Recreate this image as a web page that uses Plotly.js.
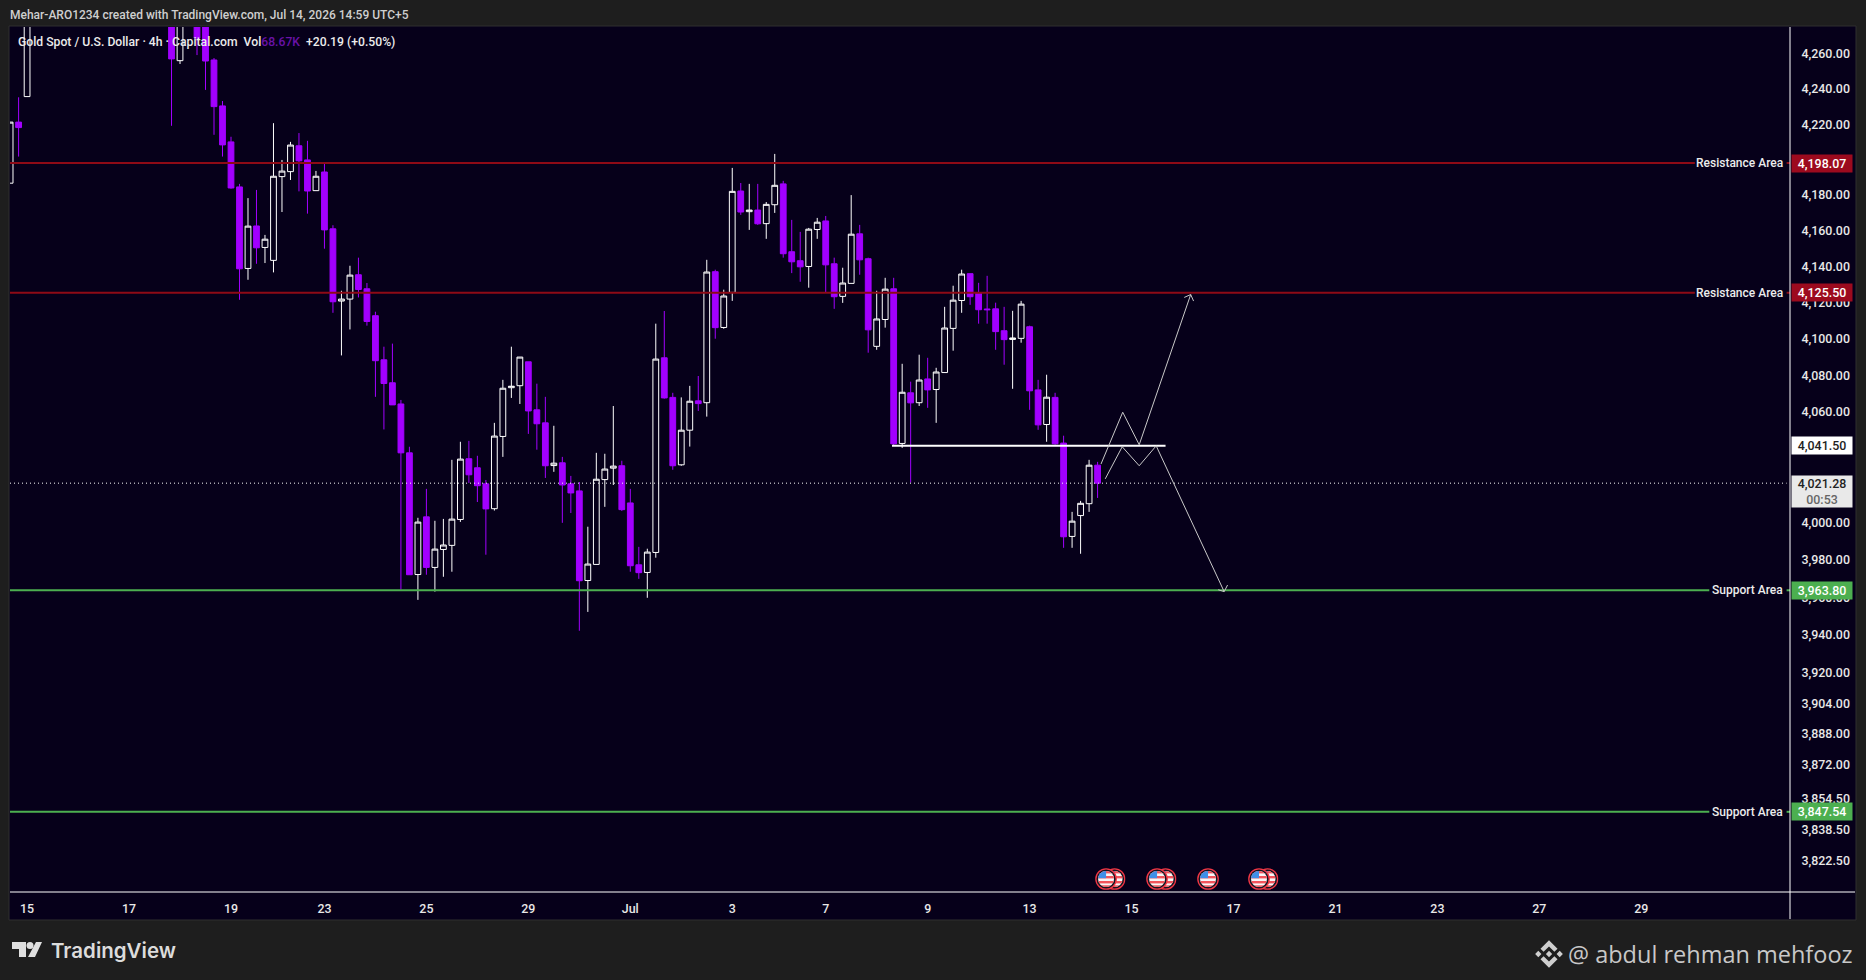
<!DOCTYPE html>
<html><head><meta charset="utf-8">
<script src="https://cdn.plot.ly/plotly-3.0.1.min.js"></script>
<style>html,body{margin:0;padding:0;background:#1e1e1e;overflow:hidden}#c{width:1866px;height:980px}</style>
</head><body><div id="c"></div>
<script>
const candleIdx = [-1,0,1,18,19,21,22,23,24,25,26,27,28,29,30,31,32,33,34,35,36,37,38,39,40,41,42,43,44,45,46,47,48,49,50,51,52,53,54,55,56,57,58,59,60,61,62,63,64,65,66,67,68,69,70,71,72,73,74,75,76,77,78,79,80,81,82,83,84,85,86,87,88,89,90,91,92,93,94,95,96,97,98,99,100,101,102,103,104,105,106,107,108,109,110,111,112,113,114,115,116,117,118,119,120,121,122,123,124,125,126,127];
const opens = [4186.7,4221.2,4235.7,4290,4256.2,4285,4283,4256.6,4230.4,4210,4184.6,4139,4162.7,4150.7,4143.5,4190.4,4193.2,4207.8,4199.8,4182.5,4193,4161.1,4120.9,4122,4135.5,4127.7,4112.8,4088.5,4075.9,4064.3,4037.7,3972.2,4003.1,3976,3985.6,3987.8,4001.7,4034.5,4029.6,4020.9,4007.5,4046.6,4073.2,4074.3,4087.4,4061.1,4054,4030.8,4032.3,4020.9,4017.1,3969,3977.6,4023.2,4029.4,4030.7,4010.6,3977.4,3973.3,3984,4089.6,4067.9,4031.2,4050,4066,4065,4137.2,4106.3,4125.7,4182.3,4170.7,4171.6,4164,4174.6,4186.3,4148.3,4143.3,4140.1,4160.7,4165.5,4141.6,4123.5,4130.7,4158.3,4144.4,4095.9,4110.7,4127.7,4042.8,4070.4,4065,4078,4072.2,4081.5,4105.8,4121.2,4136.1,4125.3,4116.5,4116.6,4104.5,4099.7,4100.3,4106.7,4072,4053.1,4067.9,4043,3992.6,4003.8,4010.2,4031];
const highs = [4221.2,4235.3,4300,4295,4290,4292,4292,4257.7,4233.2,4212.9,4186.3,4178.3,4182.9,4157.7,4220.6,4199.8,4210,4215,4210.6,4193.6,4198,4163.1,4126.6,4140.5,4145,4130.9,4115,4095.7,4097.4,4066.5,4041,4002.6,4018.2,4001,4002,4033.9,4043.7,4044.2,4036.1,4023,4054,4077.5,4095.7,4090,4087.4,4075.4,4068.2,4052.4,4035.5,4025.2,4021.9,3997.8,4037.7,4037.2,4063.2,4033.4,4018.2,3987,3986,4108.4,4115.4,4070.4,4067.9,4074.2,4079.6,4143.8,4138.3,4127.2,4195.3,4186.8,4186.3,4186.3,4176.1,4203.2,4188,4166.1,4159.4,4161.6,4167.2,4168.3,4145,4139.4,4180,4163.3,4145,4126.6,4133.8,4133.8,4086.3,4076.5,4091.3,4089.6,4084.1,4117.7,4129.4,4138.3,4136.1,4131,4134.9,4120,4117.7,4115.5,4121,4107.3,4077.5,4080.3,4070.4,4047,4005.8,4011.7,4033.9,4032.8];
const lows = [4186.7,4201.7,4235.7,4219.1,4254.3,4259.4,4239.5,4214,4201.7,4183.6,4121.6,4132.7,4141.6,4142,4136.8,4170.5,4188.5,4182.1,4169.6,4182.5,4150,4114.4,4090.9,4105.2,4122.9,4107.3,4068.2,4050.4,4063.8,3964.1,3972.1,3958.7,3972.1,3963.1,3971,3973.7,4000.4,4021.4,4011.1,3982.8,4006.5,4035.5,4067.6,4064.3,4048,4039.4,4024.1,4027.4,3999.9,4005.2,3942.3,3952.3,3977.6,4008.5,4020.3,4006.3,3973.7,3969.9,3959.8,3981.2,4067.2,4028.5,4030.7,4041.1,4060.5,4057.4,4100.1,4105.6,4121,4168.9,4160.5,4163.3,4155.5,4170,4145,4136.4,4131.6,4128.3,4155.5,4125.5,4116.6,4119.9,4130.7,4135.5,4092.4,4094,4106.2,4041.5,4040.4,4021.6,4063.2,4062.2,4054,4081.5,4093.5,4114.4,4118.8,4108.4,4108.4,4094,4085.8,4072.6,4097.9,4061.1,4050.2,4043.7,4042.1,3986.5,3986.5,3983.3,4005.8,4013.3];
const closes = [4221.2,4218.1,4296,4257.2,4282,4269.1,4256,4230,4208.3,4184,4138.8,4162.6,4150.5,4155.3,4190.6,4193.5,4208.2,4199.3,4182.3,4190.6,4160.5,4120.5,4122,4135.3,4127.3,4109.6,4088,4075.5,4063.8,4037.7,3972.1,4000.3,3976,3985.8,3988,4001.9,4034.3,4025.8,4019.9,4007.4,4046.8,4072.9,4074,4090,4060.5,4053.5,4030.7,4032.1,4020.3,4016,3968.9,3977.8,4023.4,4028.9,4030.5,4007,3976.9,3973.2,3984.2,4088.9,4067.6,4030.7,4050,4065.8,4064.5,4137,4106.2,4123.7,4182.1,4170.5,4171.6,4163.9,4174.8,4185.5,4147.2,4142.7,4139.9,4160.9,4164.8,4141,4123.3,4130.9,4158.1,4143.8,4105,4111,4127.5,4042.6,4070.7,4064.9,4077.4,4072,4081.8,4106,4121.4,4135.9,4123.3,4116.1,4116.1,4104,4099.6,4100.5,4119.2,4071.5,4052.9,4068,4042.6,3992.4,4000.8,4010.4,4031,4021.28];

const yTickVals = [4260,4240,4220,4200,4180,4160,4140,4120,4100,4080,4060,4000,3980,3960,3940,3920,3904,3888,3872,3854.5,3838.5,3822.5];
const yTickText = ["4,260.00","4,240.00","4,220.00","4,200.00","4,180.00","4,160.00","4,140.00","4,120.00","4,100.00","4,080.00","4,060.00","4,000.00","3,980.00","3,960.00","3,940.00","3,920.00","3,904.00","3,888.00","3,872.00","3,854.50","3,838.50","3,822.50"];
const xTickVals = [1,13,25,36,48,60,72,84,95,107,119,131,143,155,167,179,191];
const xTickText = ["15","17","19","23","25","29","Jul","3","7","9","13","15","17","21","23","27","29"];

const resistanceLevels = [4198.07,4125.50];
const supportLevels = [3963.80,3847.54];
const lastPrice = 4021.28;
const markedLevel = 4041.50;

const upPathX = [127.4,129.96,131.9,137.96];
const upPathY = [4031.6,4059.8,4042.1,4124.5];
const upHeadX = [137.2,137.96,138.3];
const upHeadY = [4122.9,4124.5,4120.9];
const downPathX = [127.9,129.9,131.9,133.9,141.9];
const downPathY = [4023.6,4041,4030.7,4041.5,3963.1];
const downHeadX = [141.2,141.9,142.3];
const downHeadY = [3964.1,3963.1,3966.6];
const markedX = [102.8,135];
const eventIdx = [129,128,135,134,140,147,146];

const BG='#06001a', PURPLE='#a200ff', WHITE='#ffffff', RED='#8e0a16', REDB='#9c0a1e', GREEN='#4caf50', FRAME='#1e1e1e';
const LEFT=10, TOP=27, W=1780, H=865;
const XMIN=-1.012, XMAX=208.5, LEVEL_END_R=197.3, LEVEL_END_S=199, DASH0=208.1;
const fp=(px)=>(px-LEFT)/W, fy=(py)=>(TOP+H-py)/H;
const UI='Roboto, sans-serif';
const TICKFONT={family:UI,size:12.4,weight:500,color:'#e8e8e8'};

function seg(x,y,color,width,dash){return {type:'scatter',mode:'lines',x,y,line:{color,width,dash:dash||'solid'},hoverinfo:'skip',showlegend:false};}
const traces=[{type:'candlestick',x:candleIdx,open:opens,high:highs,low:lows,close:closes,
  increasing:{line:{color:WHITE,width:1},fillcolor:BG},decreasing:{line:{color:PURPLE,width:1},fillcolor:PURPLE},
  whiskerwidth:0,hoverinfo:'skip',showlegend:false}];
resistanceLevels.forEach(v=>{traces.push(seg([XMIN,LEVEL_END_R],[v,v],RED,2));traces.push(seg([DASH0,XMAX],[v,v],RED,2));});
supportLevels.forEach(v=>{traces.push(seg([XMIN,LEVEL_END_S],[v,v],GREEN,2));traces.push(seg([DASH0,XMAX],[v,v],GREEN,2));});
traces.push(seg([XMIN,DASH0],[lastPrice,lastPrice],'#ffffff',1,'1px,3px'));
traces.push(seg(markedX,[markedLevel,markedLevel],WHITE,2));
traces.push(seg(upPathX,upPathY,'#c9c9c9',1));
traces.push(seg(upHeadX,upHeadY,'#c9c9c9',1));
traces.push(seg(downPathX,downPathY,'#c9c9c9',1));
traces.push(seg(downHeadX,downHeadY,'#c9c9c9',1));

const flagSvg=`<svg xmlns="http://www.w3.org/2000/svg" width="88" height="88" viewBox="0 0 22 22"><defs><clipPath id="a"><circle cx="11" cy="11" r="8"/></clipPath></defs><circle cx="11" cy="11" r="10.2" fill="#131722" stroke="#f23645" stroke-width="1.3"/><g clip-path="url(#a)"><rect width="22" height="22" fill="#f7f7f7"/><rect y="3" width="22" height="2.4" fill="#f2545b"/><rect y="8" width="22" height="2.4" fill="#f2545b"/><rect y="13" width="22" height="2.4" fill="#f2545b"/><rect y="17.3" width="22" height="3" fill="#f2545b"/><rect x="3" y="3" width="8" height="7.2" fill="#3f8fe8"/></g></svg>`;
const logoSvg=`<svg xmlns="http://www.w3.org/2000/svg" width="120" height="60" viewBox="0 0 30 15"><g fill="#e0e0e0"><path d="M0 0h14v15h-7v-8h-7z"/><circle cx="18" cy="3.5" r="3.5"/><path d="M24 0h6l-7 15h-7z"/></g></svg>`;
const binanceSvg=`<svg xmlns="http://www.w3.org/2000/svg" width="112" height="112" viewBox="0 0 126 126"><path fill="#cfcfcf" d="M38.73 53.2 63 28.93l24.28 24.28 14.12-14.12L63 .69 24.61 39.08zM.69 63l14.12-14.12L28.93 63 14.81 77.12zm38.04 9.8L63 97.07l24.28-24.28 14.12 14.12L63 125.31 24.61 86.92zM97.07 63l14.12-14.12L125.31 63l-14.12 14.12zM77.32 63 63 48.68 52.55 59.13l-1.2 1.2-2.47 2.47L63 77.33 77.32 63z"/></svg>`;
const uri=s=>'data:image/svg+xml,'+encodeURIComponent(s);

const images=eventIdx.map(k=>({source:uri(flagSvg),xref:'x',yref:'paper',x:k,y:fy(879),sizex:22/8.496,sizey:22/H,xanchor:'center',yanchor:'middle',sizing:'contain',layer:'above'}));
images.push({source:uri(logoSvg),xref:'paper',yref:'paper',x:fp(12),y:fy(942),sizex:30/W,sizey:15/H,xanchor:'left',yanchor:'top',sizing:'contain',layer:'above'});
images.push({source:uri(binanceSvg),xref:'paper',yref:'paper',x:fp(1549),y:fy(954),sizex:28/W,sizey:28/H,xanchor:'center',yanchor:'middle',sizing:'contain',layer:'above'});

function label(text,x,y,anchor,font,extra){return Object.assign({text,xref:'paper',yref:'paper',x:fp(x),y:fy(y),xanchor:anchor,yanchor:'middle',showarrow:false,font},extra||{});}
function badge(text,v,bg,color,h){return {text,xref:'paper',yref:'y',x:fp(1791),y:Math.log10(v),xanchor:'left',yanchor:h>20?'top':'middle',showarrow:false,width:60,height:h,bgcolor:bg,borderpad:0,align:'center',font:{family:UI,size:12.4,weight:500,color}};}
function tag(text,v){return {text,xref:'paper',yref:'y',x:fp(1785),y:Math.log10(v),xanchor:'right',yanchor:'middle',showarrow:false,font:{family:UI,size:12,weight:500,color:'#ececec'}};}
const annotations=[
 label('Mehar-ARO1234 created with TradingView.com, Jul 14, 2026 14:59 UTC+5',8,15,'left',{family:UI,size:12,weight:500,color:'#cfcfcf'}),
 label('Gold Spot / U.S. Dollar · 4h · Capital.com  Vol<span style="color:#6a12a8">68.67K</span>  +20.19 (+0.50%)',16,42,'left',{family:UI,size:12.2,weight:500,color:'#ececec'}),
 tag('Resistance Area',resistanceLevels[0]),tag('Resistance Area',resistanceLevels[1]),tag('Support Area',supportLevels[0]),tag('Support Area',supportLevels[1]),
 badge('4,198.07',resistanceLevels[0],REDB,'#ffffff',17),badge('4,125.50',resistanceLevels[1],REDB,'#ffffff',17),
 badge('3,963.80',supportLevels[0],GREEN,'#ffffff',17),badge('3,847.54',supportLevels[1],GREEN,'#ffffff',17),
 badge('4,041.50',markedLevel,'#ffffff','#222222',17),
 badge('4,021.28<br><span style="color:#666">00:53</span>',lastPrice*1.00115,'#e9e9e9','#222222',31),
 label('TradingView',49,950,'left',{family:'Inter, sans-serif',size:20.5,weight:600,color:'#dcdcdc'}),
 label('@ abdul rehman mehfooz',1566,954,'left',{family:'Open Sans, sans-serif',size:23.5,color:'#c8c8c8'})
];
const shapes=[
 {type:'rect',xref:'paper',yref:'paper',x0:fp(9),x1:fp(1856),y0:fy(920),y1:fy(26),fillcolor:BG,line:{color:'#2e2e2e',width:1},layer:'below'},
 {type:'line',xref:'paper',yref:'paper',x0:fp(1790),x1:fp(1790),y0:fy(27),y1:fy(919),line:{color:'#ffffff',width:1},layer:'above'},
 {type:'line',xref:'paper',yref:'paper',x0:fp(10),x1:fp(1855),y0:fy(892),y1:fy(892),line:{color:'#ffffff',width:1},layer:'above'}
];
const layout={width:1866,height:980,margin:{l:LEFT,r:1866-LEFT-W,t:TOP,b:980-TOP-H,pad:0},paper_bgcolor:FRAME,plot_bgcolor:BG,showlegend:false,hovermode:false,boxgap:0.2,boxgroupgap:0.15,
 xaxis:{type:'linear',range:[XMIN,XMAX],showgrid:false,zeroline:false,showline:false,tickmode:'array',tickvals:xTickVals,ticktext:xTickText,ticks:'outside',ticklen:5,tickcolor:'rgba(0,0,0,0)',tickfont:Object.assign({},TICKFONT),rangeslider:{visible:false},fixedrange:true},
 yaxis:{type:'log',side:'right',range:[Math.log10(3806.3),Math.log10(4275.5)],showgrid:false,zeroline:false,showline:false,tickmode:'array',tickvals:yTickVals,ticktext:yTickText,ticks:'outside',ticklen:8,tickcolor:'rgba(0,0,0,0)',tickfont:Object.assign({},TICKFONT),fixedrange:true},
 shapes,annotations,images};
Plotly.newPlot('c',traces,layout,{displayModeBar:false,staticPlot:true});
</script></body></html>
